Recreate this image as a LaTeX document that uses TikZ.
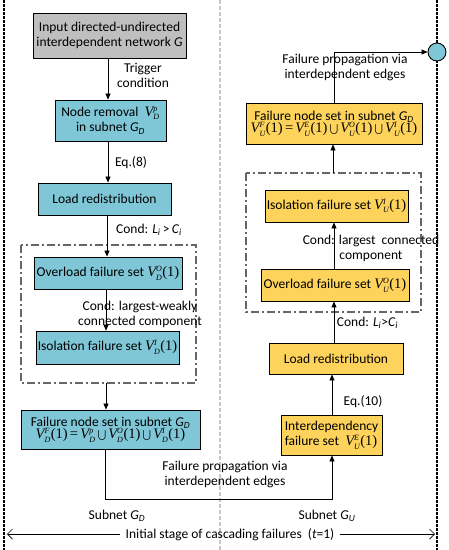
\documentclass[tikz,border=0pt]{standalone}
\usepackage{fontspec}
\setmainfont{Carlito}
\newfontfamily\tms{Liberation Serif}
\usetikzlibrary{arrows.meta}
\definecolor{bluef}{HTML}{7FC7D7}
\definecolor{yellowf}{HTML}{FDD35C}
\definecolor{grayf}{HTML}{BFBFBF}
\tikzset{
  box/.style={draw=black, line width=0.9pt, align=center, inner sep=1pt, font=\fontsize{13.5}{15.5}\selectfont},
  bbox/.style={box, fill=bluef},
  ybox/.style={box, fill=yellowf},
  arr/.style={-{Triangle[length=6pt,width=5pt]}, line width=0.7pt},
  lbl/.style={align=center, font=\fontsize{13.5}{15}\selectfont, inner sep=0pt},
  grp/.style={draw=black!60, line width=1.2pt, dash pattern=on 8pt off 3pt on 2pt off 3pt},
  border/.style={draw=black, line width=2pt, dash pattern=on 2.5pt off 1.5pt},
}
\newcommand{\Gsub}[1]{\textit{G}\textsubscript{\textit{#1}}}
\newcommand{\tsm}[1]{\hbox{\fontsize{8}{8}\selectfont\tms\itshape #1}}
\newcommand{\VV}[3]{{\fontsize{14.5}{14.5}\selectfont\tms\itshape V}$_{\tsm{#1}}^{\tsm{#2}}${\fontsize{14.5}{14.5}\selectfont\tms #3}}
\newcommand{\Un}{\,$\bigcup$\,}
\newcommand{\Eqs}{\,{\fontsize{14.5}{14.5}\selectfont\tms =}\,}
\begin{document}
\begin{tikzpicture}[x=1pt,y=-1pt]
\useasboundingbox (0,0) rectangle (449,550);
% borders
\draw[border] (3.5,0) -- (3.5,550);
\draw[border] (437,0) -- (437,550);
\draw[draw=black!22, line width=1.6pt, dash pattern=on 4pt off 2pt] (220,0) -- (220,550);
% group boxes
\draw[grp] (21,245) rectangle (196,383);
\draw[grp] (246,173) rectangle (421,312);
% left column
\node[box, fill=grayf, minimum width=153pt, minimum height=45pt] (inp) at (109.5,35.5) {Input directed-undirected\\interdependent network \textit{G}};
\node[bbox, minimum width=111pt, minimum height=41pt] (rem) at (110.5,120.5) {Node removal \ \VV{D}{p}{}\\in subnet \Gsub{D}};
\node[bbox, minimum width=133pt, minimum height=32pt] (lrd) at (104.5,199) {Load redistribution};
\node[bbox, minimum width=148pt, minimum height=32pt] (ovd) at (108,273) {Overload failure set \VV{D}{O}{(1)}};
\node[bbox, minimum width=143pt, minimum height=33pt] (isd) at (107.5,347.5) {Isolation failure set \VV{D}{I}{(1)}};
\node[bbox, minimum width=179pt, minimum height=39pt] (fnd) at (110.5,429.5) {Failure node set in subnet \Gsub{D}\\[-3pt] \VV{D}{F}{(1)}\Eqs\VV{D}{p}{}\Un\VV{D}{O}{(1)}\Un\VV{D}{I}{(1)}};
% right column
\node[ybox, minimum width=101pt, minimum height=40pt, align=left] (ied) at (331.5,435) {Interdependency\\failure set \ \VV{U}{E}{(1)}};
\node[ybox, minimum width=134pt, minimum height=31pt] (lru) at (336,358.5) {Load redistribution};
\node[ybox, minimum width=148pt, minimum height=32pt] (ovu) at (335,285) {Overload failure set \VV{U}{O}{(1)}};
\node[ybox, minimum width=143pt, minimum height=32pt] (isu) at (336.5,206) {Isolation failure set \VV{U}{I}{(1)}};
\node[ybox, minimum width=176pt, minimum height=41pt] (fnu) at (334,123.5) {Failure node set in subnet \Gsub{D}\\[-3pt] \VV{U}{F}{(1)}\Eqs\VV{U}{E}{(1)}\Un\VV{U}{O}{(1)}\Un\VV{U}{I}{(1)}};
\node[circle, draw=black, line width=0.9pt, fill=bluef, minimum size=18pt, inner sep=0pt] (cir) at (437,52) {};
% coordinates
\coordinate (gdl) at (106,383);
\coordinate (gdr) at (333,173);
\coordinate (bl) at (105,499);
\coordinate (br) at (332,499);
\coordinate (tl) at (334,52);
% arrows left
\draw[arr] (inp.south -| 108,0) -- (rem.north -| 108,0);
\draw[arr] (rem.south -| 108,0) -- (lrd.north -| 108,0);
\draw[arr] (lrd.south -| 107,0) -- (ovd.north -| 107,0);
\draw[arr] (ovd.south -| 106,0) -- (isd.north -| 106,0);
\draw[arr] (gdl) -- (fnd.north -| gdl);
\draw[arr] (fnd.south -| bl) -- (bl) -- (br) -- (ied.south -| br);
% arrows right
\draw[arr] (ied.north -| br) -- (lru.south -| br);
\draw[arr] (lru.north -| 334,0) -- (ovu.south -| 334,0);
\draw[arr] (ovu.north -| 334,0) -- (isu.south -| 334,0);
\draw[arr] (gdr) -- (fnu.south -| gdr);
\draw[arr] (fnu.north -| tl) -- (tl) -- (cir.west);
% labels
\node[lbl] (l1) at (143,75) {Trigger\\condition};
\node[lbl] (l2) at (131,163) {Eq.(8)};
\node[lbl] (l3) at (149,230) {Cond: \textit{L}\textsubscript{\textit{i}}\,>\,\textit{C}\textsubscript{\textit{i}}};
\node[lbl] (l4) at (140,314.5) {Cond: largest-weakly\\connected component};
\node[lbl] (l5) at (225,474.5) {Failure propagation via\\interdependent edges};
\node[lbl] (l6) at (363,402) {Eq.(10)};
\node[lbl] (l7) at (367.5,323) {Cond: \textit{L}\textsubscript{\textit{i}}>\textit{C}\textsubscript{\textit{i}}};
\node[lbl] (l8) at (371,248) {Cond: largest \ connected\\component};
\node[lbl] (l9) at (345,67.5) {Failure propagation via\\interdependent edges};
\node[lbl] (s1) at (117,516) {Subnet \Gsub{D}};
\node[lbl] (s2) at (327,516) {Subnet \Gsub{U}};
\node[lbl, inner xsep=5pt] (st) at (230,535) {Initial stage of cascading failures \ (\textit{t}=1)};
\coordinate (al) at (7,534);
\coordinate (ar) at (435,534);
\draw[{Straight Barb[length=5pt,width=10pt]}-, line width=0.7pt] (al) -- (st.west |- al);
\draw[-{Straight Barb[length=5pt,width=10pt]}, line width=0.7pt] (st.east |- ar) -- (ar);
\end{tikzpicture}
\end{document}
